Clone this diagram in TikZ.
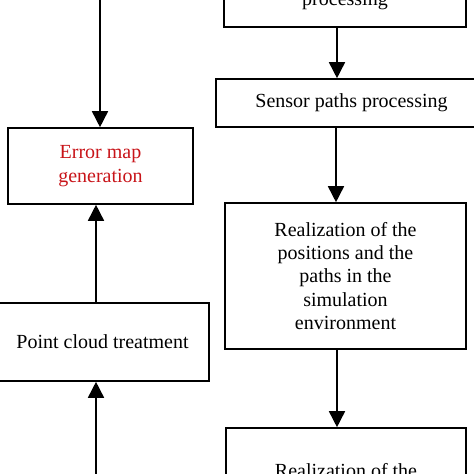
\documentclass[tikz,border=0pt]{standalone}
\usepackage{fontspec}
\setmainfont{Liberation Serif}
\definecolor{ErrRed}{RGB}{200,20,25}
\usetikzlibrary{arrows.meta, positioning}

\begin{document}
\begin{tikzpicture}[x=1pt, y=-1pt,
    box/.style={draw, line width=1.6pt, align=center, inner sep=2pt,
                font=\fontsize{20}{23.3}\selectfont},
    flow/.style={line width=1.6pt, -{Triangle[length=16pt, width=16pt]}}]

  % Frame of the crop
  \useasboundingbox (0,0) rectangle (474,474);
  \clip (0,0) rectangle (474,474);

  % Right column
  \node[box, minimum width=242pt, minimum height=52pt]
        (proc) at (345,1) {processing};

  \node[box, minimum width=271pt, minimum height=48pt]
        (sensor) at (351.5,103) {Sensor paths processing};

  \node[box, minimum width=241pt, minimum height=146pt]
        (real) at (345.5,276)
        {Realization of the\\ positions and the\\ paths in the\\ simulation\\ environment};

  \node[box, minimum width=240pt, minimum height=86pt]
        (realb) at (346,471) {Realization of the};

  % Left column
  \node[box, text=ErrRed, minimum width=185pt, minimum height=76pt]
        (err) at (100.5,166) {Error map\\ generation};

  \node[box, minimum width=213pt, minimum height=78pt]
        (cloud) at (102.5,342) {Point cloud treatment};

  \coordinate (topL) at (100,-5);
  \coordinate (botL) at (96,480);

  % Arrows
  \draw[flow] ([xshift=-8pt]proc.south) -- ([xshift=-14.5pt]sensor.north);
  \draw[flow] ([xshift=-15.5pt]sensor.south) -- ([xshift=-9.5pt]real.north);
  \draw[flow] ([xshift=-8.5pt]real.south) -- ([xshift=-9pt]realb.north);

  \draw[flow] (topL) -- ([xshift=-0.5pt]err.north);
  \draw[flow] ([xshift=-6.5pt]cloud.north) -- ([xshift=-4.5pt]err.south);
  \draw[flow] (botL) -- ([xshift=-6.5pt]cloud.south);

\end{tikzpicture}
\end{document}
